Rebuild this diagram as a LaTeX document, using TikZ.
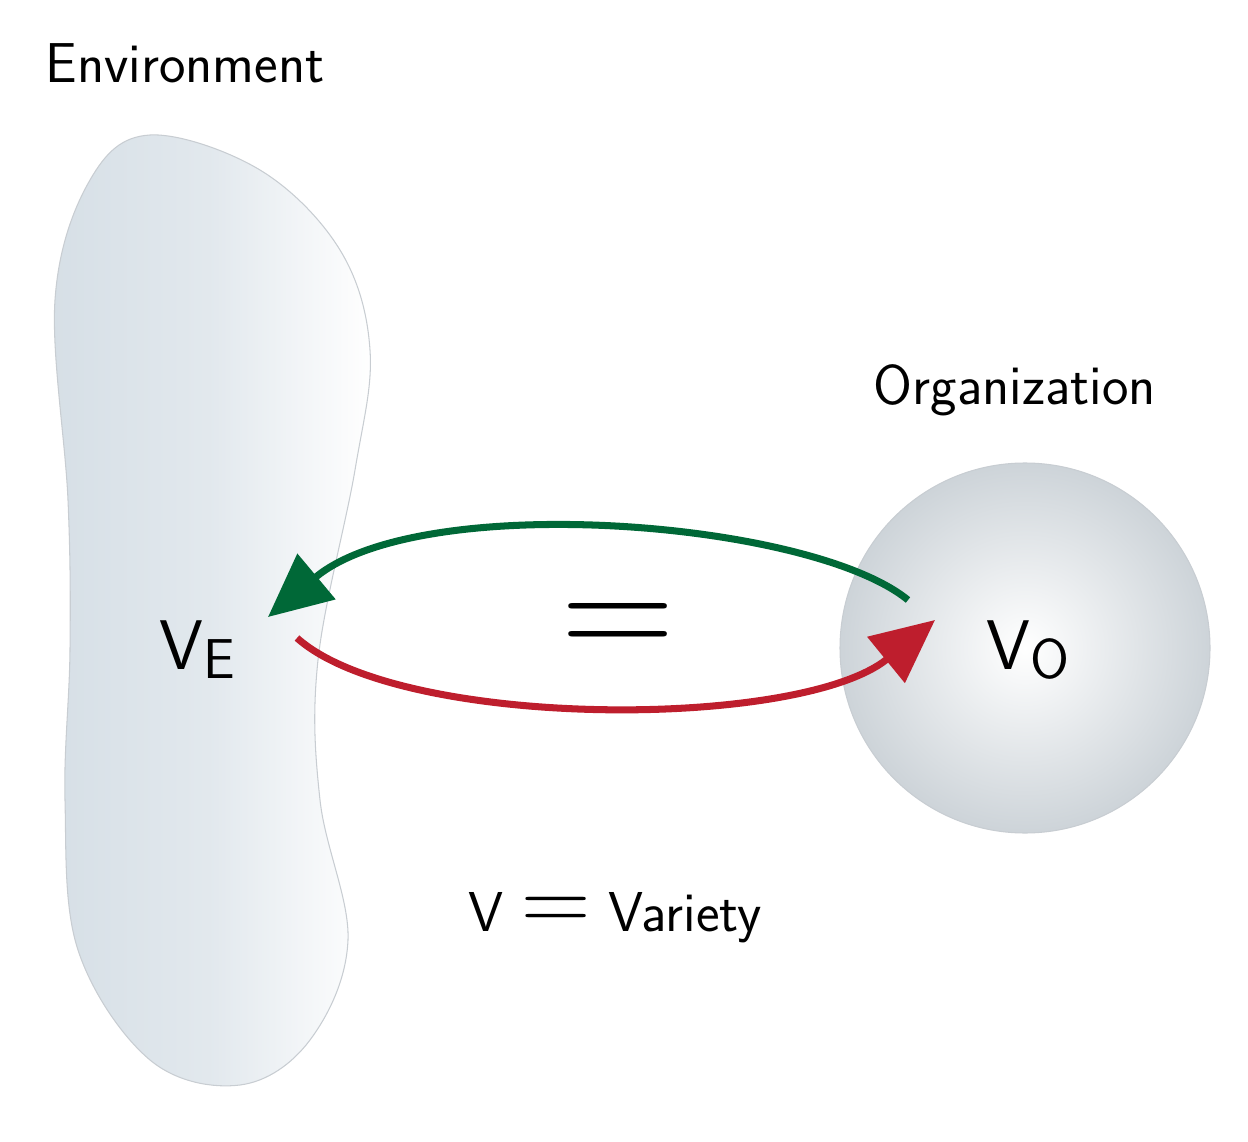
\documentclass[tikz,border=0pt]{standalone}
\usetikzlibrary{arrows.meta}
\definecolor{envgray}{RGB}{214,223,230}
\definecolor{edgegray}{RGB}{200,205,210}
\definecolor{ggreen}{RGB}{0,104,55}
\definecolor{rred}{RGB}{190,30,45}
\tikzset{
  lbl/.style={font=\sffamily\fontsize{32}{38}\selectfont, inner sep=0pt},
  big/.style={font=\sffamily\fontsize{40}{46}\selectfont, inner sep=0pt},
  arc/.style={line width=4pt, -{Triangle[length=36pt,width=33pt]}}
}
\begin{document}
\begin{tikzpicture}[x=0.02cm,y=-0.02cm]
\useasboundingbox (0,0) rectangle (1248,1142);
% environment blob
\path[draw=edgegray, line width=0.6pt, left color=envgray, right color=white, middle color=envgray!70]
 plot[smooth cycle, tension=0.6] coordinates {(150,135) (90,180) (55,300) (68,500) (70,650) (65,800) (78,950) (150,1060) (240,1085) (310,1040) (348,940) (320,800) (318,660) (355,470) (370,350) (340,250) (260,170)};
% organization circle
\shade[inner color=white, outer color=envgray!90!black!80] (1025,648) circle (185);
\draw[edgegray, line width=0.6pt] (1025,648) circle (185);
\node[lbl] (env) at (185,63) {Environment};
\node[lbl] (org) at (1015,390) {Organization};
\node[big] (ve) at (197,650) {V\raisebox{-0.3ex}{\fontsize{32}{38}\selectfont E}};
\node[big] (vo) at (1028,650) {V\raisebox{-0.3ex}{\fontsize{32}{38}\selectfont O}};
\node[big] (eq) at (618,632) {\scalebox{3.6}{$=$}};
\node[lbl] (var) at (615,918) {V \scalebox{2.2}{$=$} Variety};
\coordinate (gs) at (908,600);
\coordinate (ge) at (268,617);
\coordinate (rs) at (297,638);
\coordinate (re) at (935,620);
\draw[arc, ggreen] (gs) .. controls (810,520) and (420,490) .. (ge);
\draw[arc, rred] (rs) .. controls (400,730) and (800,730) .. (re);
\end{tikzpicture}
\end{document}
